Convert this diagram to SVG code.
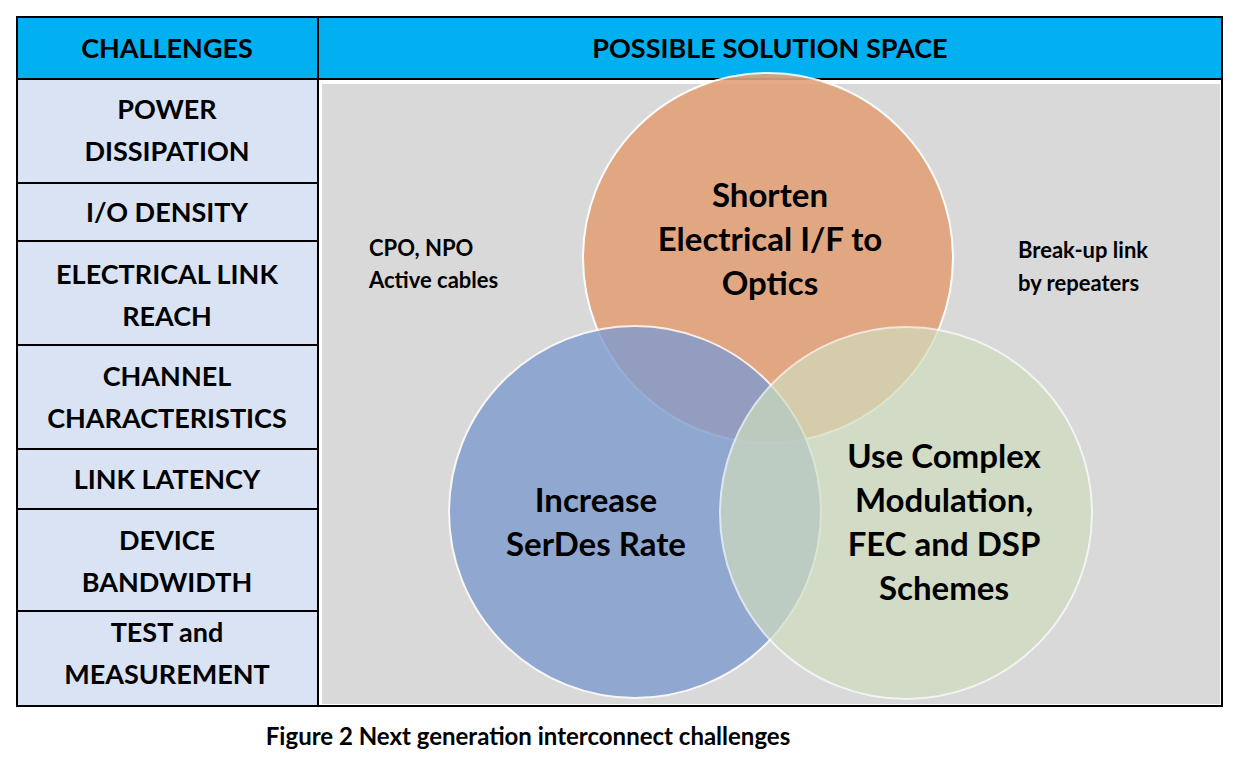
<svg xmlns="http://www.w3.org/2000/svg" width="1234" height="760" viewBox="0 0 1234 760">
<style>
.h{fill:#00b0f0;stroke:#000;stroke-width:2}
.c{fill:#dae3f3;stroke:#000;stroke-width:2}
text{font-family:Lato,"Liberation Sans",sans-serif;font-weight:bold;fill:#000;text-anchor:middle}
.ht{font-size:27px}
.lt{font-size:27px}
.vt{font-size:33px}
.st{font-size:22px;text-anchor:start}
</style>
<rect width="1234" height="760" fill="#fff"/>
<g id="header">
<rect class="h" x="17" y="17" width="301" height="62"/>
<rect class="h" x="318" y="17" width="904" height="62"/>
<text class="ht" x="167" y="58">CHALLENGES</text>
<text class="ht" x="770" y="58">POSSIBLE SOLUTION SPACE</text>
</g>
<g id="challenges">
<rect class="c" x="17" y="79" width="301" height="104"/>
<rect class="c" x="17" y="183" width="301" height="58"/>
<rect class="c" x="17" y="241" width="301" height="104"/>
<rect class="c" x="17" y="345" width="301" height="104"/>
<rect class="c" x="17" y="449" width="301" height="60"/>
<rect class="c" x="17" y="509" width="301" height="102"/>
<rect class="c" x="17" y="611" width="301" height="95"/>
<text class="lt" x="167" y="119">POWER</text>
<text class="lt" x="167" y="161">DISSIPATION</text>
<text class="lt" x="167" y="222">I/O DENSITY</text>
<text class="lt" x="167" y="284">ELECTRICAL LINK</text>
<text class="lt" x="167" y="326">REACH</text>
<text class="lt" x="167" y="386">CHANNEL</text>
<text class="lt" x="167" y="428">CHARACTERISTICS</text>
<text class="lt" x="167" y="489">LINK LATENCY</text>
<text class="lt" x="167" y="550">DEVICE</text>
<text class="lt" x="167" y="592">BANDWIDTH</text>
<text class="lt" x="167" y="642">TEST and</text>
<text class="lt" x="167" y="684">MEASUREMENT</text>
</g>
<g id="panel">
<rect x="318" y="79" width="904" height="627" fill="#fff" stroke="#000" stroke-width="2"/>
<rect x="322" y="84" width="898" height="620" fill="#d9d9d9"/>
</g>
<g id="orange"><circle cx="768" cy="258" r="185" fill="#e2a27a" stroke="#fff" stroke-width="2" opacity="0.9"/></g>
<g id="blue"><circle cx="635" cy="512" r="186" fill="#7f9bcf" stroke="#fff" stroke-width="2" opacity="0.8"/></g>
<g id="green"><circle cx="906" cy="513" r="186" fill="#cfdcbd" stroke="#fff" stroke-width="2" opacity="0.7"/></g>
<g id="labels">
<text class="vt" x="770" y="207">Shorten</text>
<text class="vt" x="770" y="251">Electrical I/F to</text>
<text class="vt" x="770" y="295">Optics</text>
<text class="vt" x="596" y="512">Increase</text>
<text class="vt" x="596" y="556">SerDes Rate</text>
<text class="vt" x="944" y="468">Use Complex</text>
<text class="vt" x="944" y="512">Modulation,</text>
<text class="vt" x="944" y="556">FEC and DSP</text>
<text class="vt" x="944" y="600">Schemes</text>
<text class="st" x="369" y="256">CPO, NPO</text>
<text class="st" x="369" y="288">Active cables</text>
<text class="st" x="1018" y="258">Break-up link</text>
<text class="st" x="1018" y="291">by repeaters</text>
</g>
<g id="connectors"></g>
<text x="528" y="745" style="font-size:24px">Figure 2  Next generation interconnect challenges</text>
</svg>
